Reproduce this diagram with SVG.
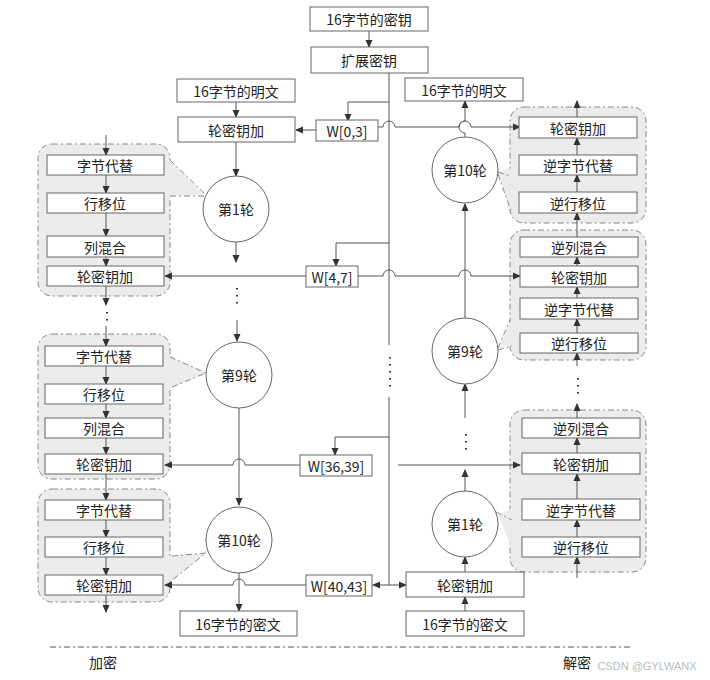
<svg xmlns="http://www.w3.org/2000/svg" width="710" height="680" viewBox="0 0 710 680">
<style>
.b{fill:#fff;stroke:#666;stroke-width:1}
.c{fill:#fff;stroke:#666;stroke-width:1}
.g{fill:#ececec;stroke:#888;stroke-width:1;stroke-dasharray:6 3 2 3}
.co{fill:#ececec;stroke:none}
.cl{stroke:#888;stroke-width:1;stroke-dasharray:6 3 2 3;fill:none}
.l{stroke:#555;stroke-width:1;fill:none}
.a{stroke:#555;stroke-width:1;fill:none;marker-end:url(#ah)}
.dot{stroke:#333;stroke-width:2;stroke-dasharray:1.5 5.5;fill:none}
text{font-family:"Noto Sans CJK SC","Noto Sans",sans-serif;font-size:14px;fill:#222;text-anchor:middle;dominant-baseline:central}
</style>
<defs>
<marker id="ah" markerWidth="8" markerHeight="8" refX="7" refY="4" orient="auto" markerUnits="userSpaceOnUse">
<path d="M0,0.5 L8,4 L0,7.5 Z" fill="#333"/>
</marker>
</defs>
<rect x="0" y="0" width="710" height="680" fill="#fff"/>

<!-- groups (shaded) -->
<g id="enc-group1">
<rect class="g" x="38" y="144" width="132" height="152" rx="14"/>
<polygon class="co" points="168,158 204,194 168,197"/>
<path class="cl" d="M170,160 L204,193 M170,196 L204,196"/>
</g>
<g id="enc-group9">
<rect class="g" x="38" y="334" width="132" height="145" rx="14"/>
<polygon class="co" points="168,355 206,373 168,389"/>
<path class="cl" d="M170,357 L206,373 L172,387"/>
</g>
<g id="enc-group10">
<rect class="g" x="38" y="489" width="132" height="113" rx="14"/>
<polygon class="co" points="168,556 206,553 160,590"/>
<path class="cl" d="M172,556 L206,553 L166,585"/>
</g>
<g id="dec-group10">
<rect class="g" x="510" y="107" width="136" height="116" rx="14"/>
<polygon class="co" points="498,172 512,168 512,215"/>
<path class="cl" d="M498,172 L510,176 M498,174 L512,214"/>
</g>
<g id="dec-group9">
<rect class="g" x="510" y="230" width="136" height="130" rx="14"/>
<polygon class="co" points="498,348 512,318 512,346"/>
<path class="cl" d="M498,348 L510,320 M498,350 L512,346"/>
</g>
<g id="dec-group1">
<rect class="g" x="510" y="410" width="136" height="162" rx="14"/>
<polygon class="co" points="498,515 512,508 512,548"/>
<path class="cl" d="M496,512 L512,520"/>
</g>

<!-- connectors -->
<g id="connectors">
<path class="a" d="M369,31 V47"/>
<path class="l" d="M389,73 V345"/>
<path class="dot" d="M390,357 V392"/>
<path class="l" d="M389,397 V585"/>
<!-- enc left -->
<path class="a" d="M236,102 V117"/>
<path class="a" d="M389,102 H348 V121"/>
<path class="a" d="M316,130 H296"/>
<path class="a" d="M236,142 V176"/>
<path class="a" d="M236,242 V262"/>
<path class="dot" d="M237,288 V304"/>
<path class="a" d="M237,320 V341"/>
<path class="a" d="M239,408 V505"/>
<path class="a" d="M239,573 V611"/>
<path class="a" d="M389,243 H336 V266"/>
<path class="a" d="M306,276 H165"/>
<path class="a" d="M389,437 H335 V455"/>
<path class="a" d="M300,465 H245 a6,6 0 0 0 -12,0 H165"/>
<path class="a" d="M306,585 H245 a6,6 0 0 0 -12,0 H165"/>
<!-- enc group internals -->
<path class="a" d="M106,135 V155"/>
<path class="a" d="M106,175 V193"/>
<path class="a" d="M106,213 V236"/>
<path class="a" d="M106,257 V266"/>
<path class="a" d="M106,286 V305"/>
<path class="dot" d="M107,312 V326"/>
<path class="a" d="M106,326 V346"/>
<path class="a" d="M106,366 V384"/>
<path class="a" d="M106,404 V418"/>
<path class="a" d="M106,438 V454"/>
<path class="a" d="M106,474 V500"/>
<path class="a" d="M106,520 V537"/>
<path class="a" d="M106,557 V575"/>
<path class="a" d="M106,595 V612"/>
<!-- to decryption side -->
<path class="a" d="M378,127 H383 a6,6 0 0 1 12,0 H459 a6,6 0 0 1 12,0 H520"/>
<path class="a" d="M358,276 H383 a6,6 0 0 1 12,0 H459 a6,6 0 0 1 12,0 H520"/>
<path class="a" d="M398,465 H520"/>
<path class="a" d="M389,585 H373"/>
<path class="a" d="M389,585 H406"/>
<!-- dec vertical -->
<path class="a" d="M465,611 V597"/>
<path class="a" d="M465,572 V557"/>
<path class="a" d="M465,491 V470"/>
<path class="dot" d="M466,434 V452"/>
<path class="a" d="M465,418 V384"/>
<path class="a" d="M465,318 V204"/>
<path class="a" d="M465,137 V133 a6,6 0 0 1 0,-12 V101"/>
<!-- dec group internals -->
<path class="a" d="M577,578 V557"/>
<path class="a" d="M577,537 V520"/>
<path class="a" d="M577,499 V474"/>
<path class="a" d="M577,453 V438"/>
<path class="a" d="M577,418 V404"/>
<path class="dot" d="M578,378 V398"/>
<path class="a" d="M577,366 V353"/>
<path class="a" d="M577,333 V319"/>
<path class="a" d="M577,298 V287"/>
<path class="a" d="M577,266 V257"/>
<path class="a" d="M577,237 V213"/>
<path class="a" d="M577,192 V175"/>
<path class="a" d="M577,155 V138"/>
<path class="a" d="M577,117 V101"/>
<path d="M50,647 H630" stroke="#555" stroke-width="1" stroke-dasharray="6 3 2 3"/>
</g>

<!-- key schedule -->
<g id="key"><rect class="b" x="310" y="7" width="118" height="24"/><text x="369" y="19">16字节的密钥</text></g>
<g id="expand"><rect class="b" x="311" y="47" width="117" height="26"/><text x="369" y="60">扩展密钥</text></g>
<g id="w0"><rect class="b" x="316" y="120" width="62" height="21"/><text x="347" y="130.5">W[0,3]</text></g>
<g id="w4"><rect class="b" x="306" y="266" width="52" height="21"/><text x="332" y="276.5">W[4,7]</text></g>
<g id="w36"><rect class="b" x="300" y="455" width="72" height="21"/><text x="336" y="465.5">W[36,39]</text></g>
<g id="w40"><rect class="b" x="306" y="575" width="66" height="21"/><text x="339" y="585.5">W[40,43]</text></g>

<!-- encryption -->
<g id="enc-plain"><rect class="b" x="177" y="79" width="118" height="23"/><text x="236" y="90.5">16字节的明文</text></g>
<g id="enc-ark0"><rect class="b" x="178" y="117" width="117" height="25"/><text x="236" y="129.5">轮密钥加</text></g>
<g id="enc-r1"><circle class="c" cx="236" cy="209" r="33"/><text x="236" y="209">第1轮</text></g>
<g id="enc-r9"><circle class="c" cx="239" cy="375" r="33"/><text x="239" y="375">第9轮</text></g>
<g id="enc-r10"><circle class="c" cx="239" cy="540" r="33"/><text x="239" y="540">第10轮</text></g>
<g id="enc-cipher"><rect class="b" x="180" y="611" width="117" height="25"/><text x="238" y="623.5">16字节的密文</text></g>
<g id="e1"><rect class="b" x="47" y="155" width="117" height="20"/><text x="105" y="165">字节代替</text>
<rect class="b" x="47" y="193" width="117" height="20"/><text x="105" y="203">行移位</text>
<rect class="b" x="47" y="236" width="117" height="21"/><text x="105" y="246.5">列混合</text>
<rect class="b" x="47" y="266" width="117" height="20"/><text x="105" y="276">轮密钥加</text></g>
<g id="e9"><rect class="b" x="45" y="346" width="118" height="20"/><text x="104" y="356">字节代替</text>
<rect class="b" x="45" y="384" width="118" height="20"/><text x="104" y="394">行移位</text>
<rect class="b" x="45" y="418" width="118" height="20"/><text x="104" y="428">列混合</text>
<rect class="b" x="45" y="454" width="118" height="20"/><text x="104" y="464">轮密钥加</text></g>
<g id="e10"><rect class="b" x="45" y="500" width="118" height="20"/><text x="104" y="510">字节代替</text>
<rect class="b" x="45" y="537" width="118" height="20"/><text x="104" y="547">行移位</text>
<rect class="b" x="45" y="575" width="118" height="20"/><text x="104" y="585">轮密钥加</text></g>

<!-- decryption -->
<g id="dec-plain"><rect class="b" x="405" y="78" width="118" height="23"/><text x="464" y="89.5">16字节的明文</text></g>
<g id="dec-r10"><circle class="c" cx="465" cy="170" r="33"/><text x="465" y="170">第10轮</text></g>
<g id="dec-r9"><circle class="c" cx="465" cy="351" r="33"/><text x="465" y="351">第9轮</text></g>
<g id="dec-r1"><circle class="c" cx="465" cy="524" r="33"/><text x="465" y="524">第1轮</text></g>
<g id="dec-ark0"><rect class="b" x="406" y="572" width="118" height="25"/><text x="465" y="584.5">轮密钥加</text></g>
<g id="dec-cipher"><rect class="b" x="406" y="611" width="118" height="25"/><text x="465" y="623.5">16字节的密文</text></g>
<g id="d10"><rect class="b" x="519" y="117" width="118" height="21"/><text x="578" y="127.5">轮密钥加</text>
<rect class="b" x="519" y="155" width="118" height="20"/><text x="578" y="165">逆字节代替</text>
<rect class="b" x="519" y="192" width="118" height="21"/><text x="578" y="202.5">逆行移位</text></g>
<g id="d9"><rect class="b" x="520" y="237" width="118" height="20"/><text x="579" y="247">逆列混合</text>
<rect class="b" x="520" y="266" width="118" height="21"/><text x="579" y="276.5">轮密钥加</text>
<rect class="b" x="520" y="298" width="118" height="21"/><text x="579" y="308.5">逆字节代替</text>
<rect class="b" x="520" y="333" width="118" height="20"/><text x="579" y="343">逆行移位</text></g>
<g id="d1"><rect class="b" x="522" y="418" width="118" height="20"/><text x="581" y="428">逆列混合</text>
<rect class="b" x="522" y="453" width="118" height="21"/><text x="581" y="463.5">轮密钥加</text>
<rect class="b" x="522" y="499" width="118" height="21"/><text x="581" y="509.5">逆字节代替</text>
<rect class="b" x="522" y="537" width="118" height="20"/><text x="581" y="547">逆行移位</text></g>

<text x="103" y="662">加密</text>
<text x="577" y="662">解密</text>
<text x="647" y="666" style="font-size:11px;fill:#bbb;font-family:'Liberation Sans',sans-serif">CSDN @GYLWANX</text>
</svg>
